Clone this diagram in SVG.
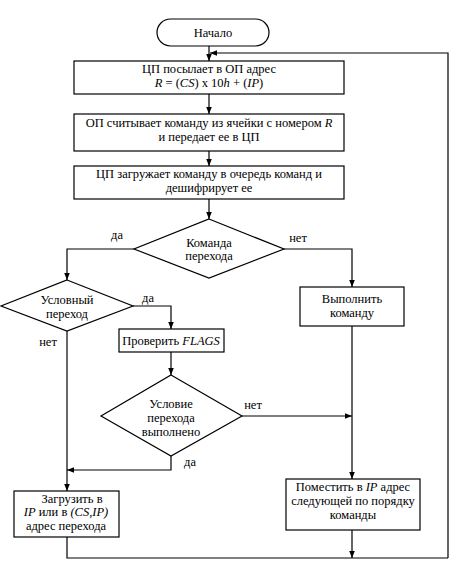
<svg xmlns="http://www.w3.org/2000/svg" width="474" height="573" viewBox="0 0 474 573">
<style>
.s{fill:#fff;stroke:#000;stroke-width:1.2}
.l{fill:none;stroke:#000;stroke-width:1.2}
text{font-family:"Liberation Serif","DejaVu Serif",serif;font-size:12.5px;fill:#000;text-anchor:middle}
.i{font-style:italic}
</style>
<defs>
<marker id="a" viewBox="0 0 10 10" refX="10" refY="5" markerWidth="7" markerHeight="7" orient="auto" markerUnits="userSpaceOnUse"><path d="M0,1 L10,5 L0,9 Z" fill="#000"/></marker>
</defs>
<rect width="474" height="573" fill="#fff"/>
<g id="connectors">
<path class="l" d="M209,46 V61" marker-end="url(#a)"/>
<path class="l" d="M448,558 V53 H210" marker-end="url(#a)"/>
<path class="l" d="M209,94 V114" marker-end="url(#a)"/>
<path class="l" d="M209,151 V166" marker-end="url(#a)"/>
<path class="l" d="M209,199 V219" marker-end="url(#a)"/>
<path class="l" d="M134,249 H67 V280" marker-end="url(#a)"/>
<path class="l" d="M284,249 H352 V287" marker-end="url(#a)"/>
<path class="l" d="M133,306 H171 V329" marker-end="url(#a)"/>
<path class="l" d="M171,352 V375" marker-end="url(#a)"/>
<path class="l" d="M67,331 V491" marker-end="url(#a)"/>
<path class="l" d="M242,416 H352" marker-end="url(#a)"/>
<path class="l" d="M171,456 V470 H67" marker-end="url(#a)"/>
<path class="l" d="M352,326 V479" marker-end="url(#a)"/>
<path class="l" d="M352,530 V558" marker-end="url(#a)"/>
<path class="l" d="M67,537 V558 H448"/>
<text x="117" y="239">да</text>
<text x="298" y="242">нет</text>
<text x="148" y="302">да</text>
<text x="48" y="346">нет</text>
<text x="253" y="409">нет</text>
<text x="190" y="466">да</text>
</g>
<g id="start">
<rect class="s" x="157" y="19" width="112" height="27" rx="13.5"/>
<text x="213" y="37">Начало</text>
</g>
<g id="b1">
<rect class="s" x="74" y="61" width="270" height="33"/>
<text x="209" y="73">ЦП посылает в ОП адрес</text>
<text x="209" y="87"><tspan class="i">R</tspan> = (<tspan class="i">CS</tspan>) x 10<tspan class="i">h</tspan> + (<tspan class="i">IP</tspan>)</text>
</g>
<g id="b2">
<rect class="s" x="74" y="114" width="270" height="37"/>
<text x="209" y="127">ОП считывает команду из ячейки с номером <tspan class="i">R</tspan></text>
<text x="209" y="141">и передает ее в ЦП</text>
</g>
<g id="b3">
<rect class="s" x="74" y="166" width="270" height="33"/>
<text x="209" y="178">ЦП загружает команду в очередь команд и</text>
<text x="209" y="192">дешифрирует ее</text>
</g>
<g id="d1">
<polygon class="s" points="209,219 284,249 209,278 134,249"/>
<text x="209" y="247">Команда</text>
<text x="209" y="260">перехода</text>
</g>
<g id="d2">
<polygon class="s" points="67,280 133,306 67,331 1,306"/>
<text x="67" y="304">Условный</text>
<text x="67" y="318">переход</text>
</g>
<g id="flags">
<rect class="s" x="119" y="329" width="105" height="23"/>
<text x="171" y="345">Проверить <tspan class="i">FLAGS</tspan></text>
</g>
<g id="d3">
<polygon class="s" points="171,375 242,416 171,456 101,416"/>
<text x="171" y="408">Условие</text>
<text x="171" y="422">перехода</text>
<text x="171" y="436">выполнено</text>
</g>
<g id="exec">
<rect class="s" x="300" y="287" width="104" height="39"/>
<text x="352" y="303">Выполнить</text>
<text x="352" y="317">команду</text>
</g>
<g id="load">
<rect class="s" x="14" y="491" width="105" height="46"/>
<text x="72" y="503">Загрузить в</text>
<text x="66" y="516"><tspan class="i">IP</tspan>  или в <tspan class="i">(CS,IP)</tspan></text>
<text x="66" y="530">адрес  перехода</text>
</g>
<g id="next">
<rect class="s" x="286" y="479" width="134" height="51"/>
<text x="353" y="491">Поместить в <tspan class="i">IP</tspan> адрес</text>
<text x="353" y="505">следующей по порядку</text>
<text x="353" y="519">команды</text>
</g>
</svg>
